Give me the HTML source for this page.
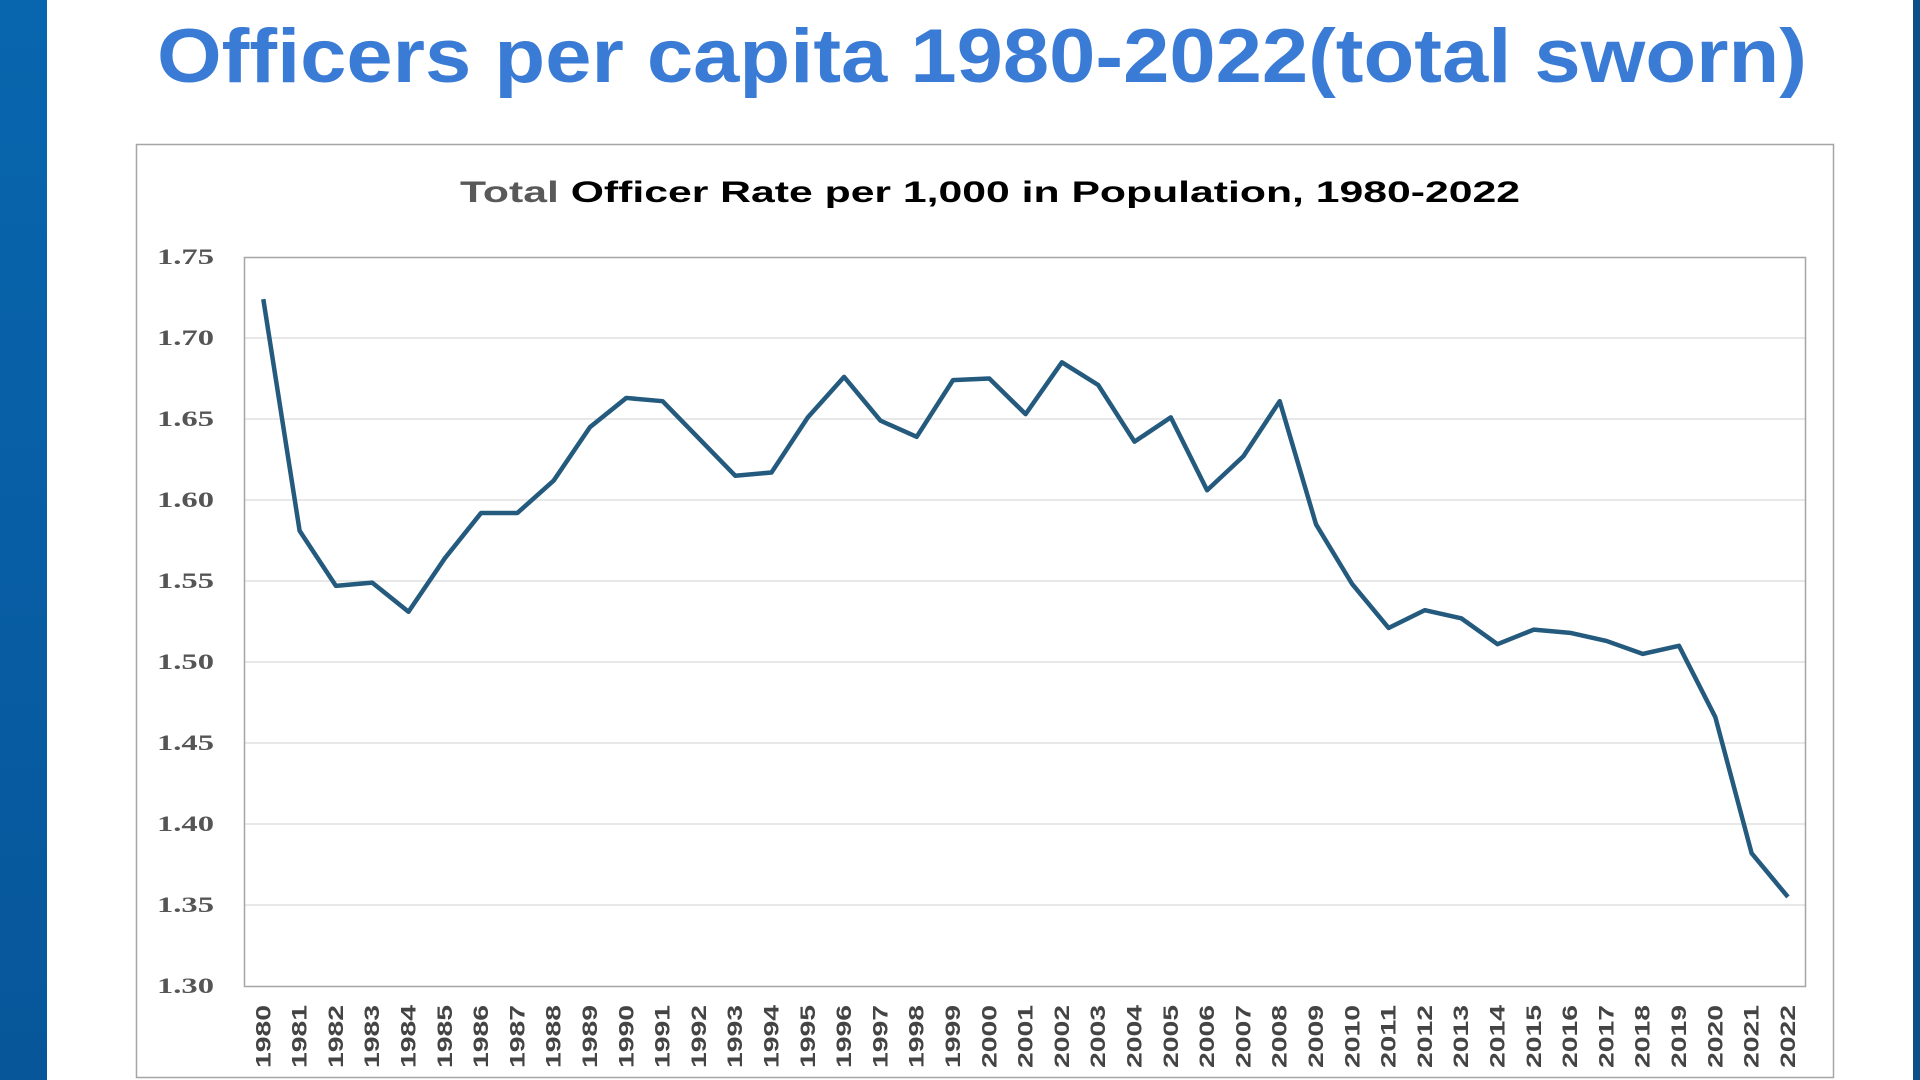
<!DOCTYPE html>
<html><head><meta charset="utf-8"><style>
html,body{margin:0;padding:0;width:1920px;height:1080px;overflow:hidden;background:#fff}
</style></head><body>
<svg id="s" width="1920" height="1080" xmlns="http://www.w3.org/2000/svg">
<defs><linearGradient id="g" x1="0" y1="0" x2="0" y2="1"><stop offset="0" stop-color="#0866ae"/><stop offset="1" stop-color="#07569a"/></linearGradient></defs>
<rect x="0" y="0" width="47" height="1080" fill="url(#g)"/>
<rect x="1913" y="0" width="7" height="1080" fill="#0b4f86"/>
<text x="982" y="82" text-anchor="middle" font-family="Liberation Sans, sans-serif" font-weight="bold" font-size="76" fill="#3a7bd5" textLength="1650" lengthAdjust="spacingAndGlyphs">Officers per capita 1980-2022(total sworn)</text>
<rect x="136.5" y="144.5" width="1697" height="933" fill="#fff" stroke="#a6a6a6" stroke-width="1.5"/>
<text x="990" y="202" text-anchor="middle" font-family="Liberation Sans, sans-serif" font-weight="bold" font-size="30" fill="#000" textLength="1060" lengthAdjust="spacingAndGlyphs"><tspan fill="#595959">Total</tspan> Officer Rate per 1,000 in Population, 1980-2022</text>
<g id="grid"></g>
<rect x="244.5" y="257.5" width="1561" height="729" fill="none" stroke="#a6a6a6" stroke-width="1.5"/>
<g id="lab" font-family="Liberation Serif, serif" font-weight="bold" fill="#555"></g>
<polyline id="line" fill="none" stroke="#245a7d" stroke-width="4.5" stroke-linejoin="round"/>
</svg>
<script>
var NS="http://www.w3.org/2000/svg";
var d=[1.724,1.581,1.547,1.549,1.531,1.564,1.592,1.592,1.612,1.645,1.663,1.661,1.638,1.615,1.617,1.651,1.676,1.649,1.639,1.674,1.675,1.653,1.685,1.671,1.636,1.651,1.606,1.627,1.661,1.585,1.548,1.521,1.532,1.527,1.511,1.520,1.518,1.513,1.505,1.510,1.466,1.382,1.355];
function Y(v){return 986-(v-1.3)*1620;}
function X(i){return 263.3+i*36.3;}
var grid=document.getElementById('grid'),lab=document.getElementById('lab');
for(var k=0;k<=9;k++){var v=1.3+k*0.05,y=Y(v);
 if(k>0&&k<9){var l=document.createElementNS(NS,'line');l.setAttribute('x1',245);l.setAttribute('x2',1805);l.setAttribute('y1',y);l.setAttribute('y2',y);l.setAttribute('stroke','#d9d9d9');l.setAttribute('stroke-width','1.3');grid.appendChild(l);}
 var t=document.createElementNS(NS,'text');t.setAttribute('x',157);t.setAttribute('y',y+7);t.setAttribute('textLength','57');t.setAttribute('lengthAdjust','spacingAndGlyphs');t.setAttribute('font-size','22');t.textContent=v.toFixed(2);lab.appendChild(t);}
var pts=[];
for(var i=0;i<d.length;i++){pts.push(X(i)+','+Y(d[i]));
 var t=document.createElementNS(NS,'text');var x=X(i)+7,y=1068;
 t.setAttribute('transform','translate('+x+','+y+') rotate(-90)');t.setAttribute('textLength','63');t.setAttribute('lengthAdjust','spacingAndGlyphs');t.setAttribute('font-size','21');t.setAttribute('font-family','Liberation Sans Narrow, Liberation Sans, sans-serif');t.setAttribute('fill','#444');t.textContent=1980+i;lab.appendChild(t);}
document.getElementById('line').setAttribute('points',pts.join(' '));
</script>
</body></html>
